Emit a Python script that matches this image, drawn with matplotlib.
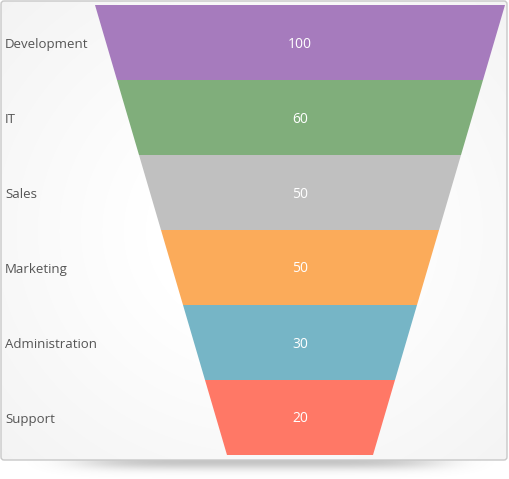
import numpy as np
import matplotlib
matplotlib.use("Agg")
import matplotlib.pyplot as plt
from matplotlib.patches import FancyBboxPatch, Polygon

categories = ["Development", "IT", "Sales", "Marketing", "Administration", "Support"]
values = [100, 60, 50, 50, 30, 20]
colors = ["#A67BBD", "#80AE7B", "#C0C0C0", "#FBAB5A", "#76B5C6", "#FF7866"]

W, H = 509, 479
fig = plt.figure(figsize=(W / 100, H / 100), dpi=100)
ax = fig.add_axes([0, 0, 1, 1])
ax.set_xlim(0, W)
ax.set_ylim(H, 0)
ax.axis("off")

# shadow under the panel
yy, xx = np.mgrid[0:40, 0:W]
sh = np.exp(-((xx - 260) / 180.0) ** 6) * np.exp(-((yy - 1) / 8.0) ** 2)
shadow = np.zeros((40, W, 4))
shadow[..., :3] = 0.5
shadow[..., 3] = sh * 0.45
ax.imshow(shadow, extent=(0, W, 460 + 40, 460), zorder=0, interpolation="bilinear")

# panel with soft radial gradient
panel = FancyBboxPatch((1, 1), 506, 459, boxstyle="round,pad=0,rounding_size=3",
                       facecolor="none", edgecolor="#C8C8C8", linewidth=1, zorder=3)
ax.add_patch(panel)
gy, gx = np.mgrid[0:460, 0:508]
r = np.sqrt(((gx - 260) / 330.0) ** 2 + ((gy - 230) / 300.0) ** 2)
g = 1.0 - 0.06 * np.clip(r - 0.35, 0, None)
grad = np.dstack([g, g, g])
im = ax.imshow(grad, extent=(1, 507, 460, 1), zorder=1, interpolation="bilinear")
bg = FancyBboxPatch((1, 1), 506, 459, boxstyle="round,pad=0,rounding_size=3",
                    facecolor="none", edgecolor="none", transform=ax.transData)
ax.add_patch(bg)
im.set_clip_path(bg)

# funnel
top, bottom = 5, 455
cx = 300
w_top, w_bot = 410, 146
n = len(categories)
seg = (bottom - top) / n


def half_width(y):
    return (w_top + (w_bot - w_top) * (y - top) / (bottom - top)) / 2


for i, (cat, val, col) in enumerate(zip(categories, values, colors)):
    y0 = top + i * seg
    y1 = y0 + seg
    pts = [(cx - half_width(y0), y0), (cx + half_width(y0), y0),
           (cx + half_width(y1), y1), (cx - half_width(y1), y1)]
    ax.add_patch(Polygon(pts, closed=True, facecolor=col, edgecolor="none", zorder=4))
    ym = (y0 + y1) / 2 + 1.5
    ax.text(cx, ym, str(val), ha="center", va="center", color="white",
            fontsize=10, family="Open Sans", zorder=5)
    ax.text(5, ym, cat, ha="left", va="center", color="#555555",
            fontsize=9.5, family="Open Sans", zorder=5)

fig.savefig("out.png", dpi=100)
